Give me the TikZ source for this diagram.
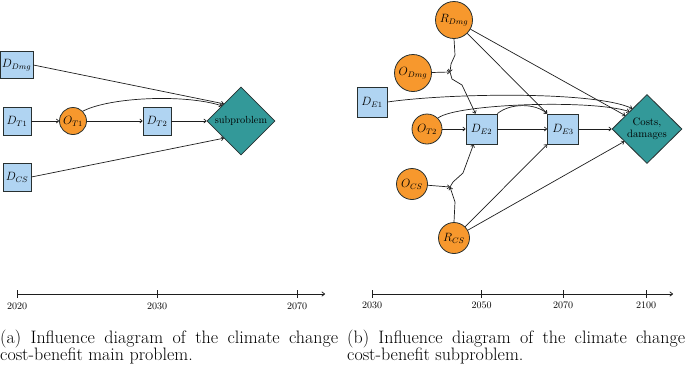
\documentclass[tikz,border=0pt]{standalone}
\usetikzlibrary{shapes.geometric,arrows.meta}
\definecolor{dblue}{RGB}{176,212,242}
\definecolor{dorange}{RGB}{247,152,45}
\definecolor{dteal}{RGB}{51,153,153}
\definecolor{dedge}{RGB}{40,48,48}
\definecolor{dline}{RGB}{30,30,30}
\begin{document}
\begin{tikzpicture}[x=1pt,y=-1pt,
  decbox/.style={draw=dedge,fill=dblue,line width=0.8pt,minimum width=28pt,minimum height=28pt,inner sep=0pt,font=\fontsize{11.5}{13}\selectfont},
  chance/.style={circle,draw=dedge,fill=dorange,line width=0.8pt,inner sep=0pt,font=\fontsize{11.5}{13}\selectfont},
  valnode/.style={diamond,draw=dedge,fill=dteal,line width=0.8pt,inner sep=0pt,align=center},
  arr/.style={-{To[length=3pt,width=4.5pt]},draw=dline,line width=0.7pt},
  axisline/.style={-{To[length=3.5pt,width=5pt]},draw=dline,line width=0.8pt},
  tickmark/.style={draw=dline,line width=0.8pt},
  ticklab/.style={font=\fontsize{10}{12}\selectfont,inner sep=0pt},
  captext/.style={anchor=base west,inner sep=0pt,font=\fontsize{18}{18}\selectfont}
]
\useasboundingbox (0,0) rectangle (685,368);

% ---------- left panel ----------
\node[decbox,minimum width=33pt,minimum height=27pt] (ddmg) at (16.5,65) {$D_{Dmg}$};
\node[decbox] (dt1) at (17,121) {$D_{T1}$};
\node[chance,minimum size=27pt] (ot1) at (73,121) {$O_{T1}$};
\node[decbox] (dt2) at (157,121) {$D_{T2}$};
\node[decbox] (dcs) at (17,177) {$D_{CS}$};
\node[valnode,minimum width=68pt,minimum height=68pt,font=\fontsize{10.3}{12}\selectfont] (sub) at (241,121) {subproblem};

\draw[arr] (dt1) -- (ot1);
\draw[arr] (ot1) -- (dt2);
\draw[arr] (dt2) -- (sub);
\draw[arr] (ddmg.east) -- (sub.north west);
\draw[arr] (ot1.north east) .. controls (110,97) and (185,94) .. ([xshift=-2pt,yshift=-2pt]sub.north west);
\draw[arr] (dcs.east) -- (sub.south west);

% left axis
\coordinate (la0) at (17,294);
\coordinate (la1) at (325,294);
\draw[axisline] (la0) -- (la1);
\draw[tickmark] (17,290) -- (17,298);
\draw[tickmark] (157,290) -- (157,298);
\draw[tickmark] (297,290) -- (297,298);
\node[ticklab] (l2020) at (17,306) {2020};
\node[ticklab] (l2030) at (157,306) {2030};
\node[ticklab] (l2070) at (297,306) {2070};

\node[captext] (capa1) at (0,343) {\makebox[338pt][s]{(a) Influence diagram of the climate change}};
\node[captext] (capa2) at (0,360) {cost-benefit main problem.};

% ---------- right panel ----------
\node[chance,minimum size=37pt] (rdmg) at (454,20) {$R_{Dmg}$};
\node[chance,minimum size=37pt] (odmg) at (413,73) {$O_{Dmg}$};
\node[decbox,minimum width=30pt,minimum height=30pt] (de1) at (372,102) {$D_{E1}$};
\node[chance,minimum size=30pt] (ot2) at (427,129) {$O_{T2}$};
\node[decbox,minimum width=31pt,minimum height=30pt] (de2) at (481.5,129) {$D_{E2}$};
\node[decbox,minimum width=31pt,minimum height=30pt] (de3) at (563,129) {$D_{E3}$};
\node[valnode,minimum width=70pt,minimum height=69pt,font=\fontsize{10.7}{11.5}\selectfont] (cd) at (647,129) {Costs,\\damages};
\node[chance,minimum size=31pt] (ocs) at (412,184) {$O_{CS}$};
\node[chance,minimum size=31pt] (rcs) at (454,238) {$R_{CS}$};

\coordinate (j1) at (450,72);
\coordinate (j2) at (450,187);

\draw[arr] (rdmg.south) -- (455,55) -- (451,64) -- (j1);
\draw[arr] (odmg) -- (j1);
\draw[arr] (j1) -- (452,79) -- (462,85) -- ([xshift=-6pt]de2.north);
\draw[arr] (rcs.north) -- (455,202) -- (452,193) -- (j2);
\draw[arr] (ocs) -- (j2);
\draw[arr] (j2) -- (453,182) -- (463,173) -- ([xshift=-8pt]de2.south);

\draw[arr] (ot2) -- (de2);
\draw[arr] (de2) -- (de3);
\draw[arr] (de3) -- (cd);
\draw[arr] (rdmg) -- (de3.north west);
\draw[arr] (rdmg) -- ([xshift=-4pt,yshift=-4pt]cd.north west);
\draw[arr] (de1.east) .. controls (450,93) and (595,91) .. ([xshift=3pt,yshift=3pt]cd.north west);
\draw[arr] (ot2.north east) .. controls (455,104) and (590,99) .. (cd.north west);
\draw[arr] (de2.north east) .. controls (510,103) and (535,103) .. (de3.north west);
\draw[arr] (rcs) -- (de3.south west);
\draw[arr] (rcs) -- ([xshift=-5pt,yshift=5pt]cd.south west);

% right axis
\coordinate (ra0) at (372,294);
\coordinate (ra1) at (673,294);
\draw[axisline] (ra0) -- (ra1);
\draw[tickmark] (372,290) -- (372,298);
\draw[tickmark] (481.5,290) -- (481.5,298);
\draw[tickmark] (563,290) -- (563,298);
\draw[tickmark] (646,290) -- (646,298);
\node[ticklab] (r2030) at (372,305) {2030};
\node[ticklab] (r2050) at (481.5,305) {2050};
\node[ticklab] (r2070) at (563,305) {2070};
\node[ticklab] (r2100) at (646,305) {2100};

\node[captext] (capb1) at (347,343) {\makebox[338pt][s]{(b) Influence diagram of the climate change}};
\node[captext] (capb2) at (347,360) {cost-benefit subproblem.};
\end{tikzpicture}
\end{document}
